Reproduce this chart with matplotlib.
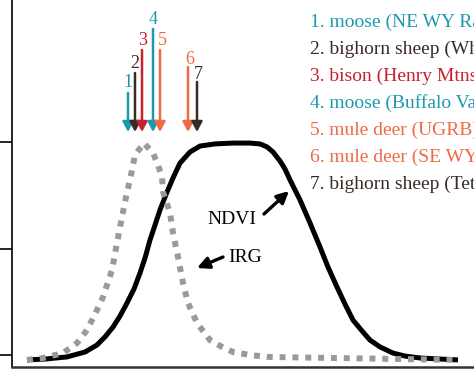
import numpy as np
import matplotlib
matplotlib.use("Agg")
import matplotlib.pyplot as plt

plt.rcParams['font.family'] = ['Liberation Serif', 'DejaVu Serif']

# curves (x = day-like units, y = relative greenness)
ndvi_x = [15, 33, 55, 73, 85, 93, 101, 108, 115, 122, 128, 133, 138, 143, 148, 155,
          161, 168, 178, 188, 203, 221, 238, 248, 255, 261, 268, 273, 278, 283, 288,
          298, 308, 316, 325, 333, 341, 350, 358, 368, 381, 393, 408, 428, 446]
ndvi_y = [-0.023, -0.019, -0.009, 0.014, 0.047, 0.085, 0.131, 0.183, 0.244, 0.310,
          0.385, 0.455, 0.540, 0.610, 0.681, 0.765, 0.831, 0.901, 0.953, 0.981,
          0.991, 0.995, 0.995, 0.991, 0.977, 0.953, 0.911, 0.873, 0.822, 0.775,
          0.728, 0.620, 0.507, 0.413, 0.319, 0.239, 0.164, 0.113, 0.070, 0.038,
          0.009, -0.005, -0.014, -0.019, -0.023]

irg_x = [15, 31, 51, 65, 75, 85, 91, 100, 105, 110, 115, 118, 123, 132, 141, 146,
         150, 151, 158, 161, 166, 171, 176, 185, 198, 210, 221, 238, 255, 321, 446]
irg_y = [-0.023, -0.014, 0.009, 0.056, 0.117, 0.211, 0.272, 0.399, 0.526, 0.648,
         0.765, 0.822, 0.939, 0.995, 0.948, 0.892, 0.836, 0.765, 0.667, 0.573,
         0.460, 0.338, 0.244, 0.150, 0.070, 0.038, 0.014, 0.0, -0.009, -0.014,
         -0.023]

# migration arrival arrows
arrow_x = [116, 123, 130, 141, 148, 176, 185]
arrow_top = [1.230, 1.324, 1.432, 1.531, 1.432, 1.352, 1.282]
arrow_tip = 1.047
arrow_labels = ['1', '2', '3', '4', '5', '6', '7']
label_x = [115.5, 123, 131, 141.5, 150, 177.5, 186]
label_y = [1.258, 1.347, 1.455, 1.554, 1.455, 1.366, 1.295]

teal = '#1b9aae'
brown = '#3a2b26'
red = '#c8202f'
orange = '#ef6a45'
arrow_colors = [teal, brown, red, teal, orange, orange, brown]

legend_labels = ['1. moose (NE WY Range)', '2. bighorn sheep (Whiskey Mtn)',
                 '3. bison (Henry Mtns)', '4. moose (Buffalo Valley)',
                 '5. mule deer (UGRB)', '6. mule deer (SE WY)',
                 '7. bighorn sheep (Teton Range)']

fig = plt.figure(figsize=(4.74, 3.69), dpi=100, facecolor='white')
ax = fig.add_axes([12 / 474, 2 / 369, 1 - 12 / 474, 1 - 2 / 369])
ax.set_xlim(0, 462)
ax.set_ylim(-12 / 213, 355 / 213)

ax.plot(ndvi_x, ndvi_y, color='black', lw=3.6, solid_joinstyle='round',
        solid_capstyle='butt', zorder=2)
ax.plot(irg_x, irg_y, color='#9a9a9a', lw=4.3, linestyle=(0, (1, 1.15)),
        dash_capstyle='butt', zorder=3)

for x, top, c in zip(arrow_x, arrow_top, arrow_colors):
    ax.annotate('', xy=(x, arrow_tip), xytext=(x, top),
                arrowprops=dict(arrowstyle='-|>,head_length=0.6,head_width=0.32',
                                lw=1.8, color=c, shrinkA=0, shrinkB=0,
                                mutation_scale=10),
                annotation_clip=False)
for x, y, t, c in zip(label_x, label_y, arrow_labels, arrow_colors):
    ax.text(x, y, t, color=c, fontsize=13, ha='center', va='baseline')

for i, (t, c) in enumerate(zip(legend_labels, arrow_colors)):
    ax.text(298, (355 - 26.5 - 27 * i) / 213, t, color=c, fontsize=14,
            ha='left', va='baseline', clip_on=False)

ax.text(219.5, (355 - 224.5) / 213, 'NDVI', fontsize=14, ha='center', va='baseline')
ax.annotate('', xy=(277, (355 - 191) / 213), xytext=(252, (355 - 214) / 213),
            arrowprops=dict(arrowstyle='-|>,head_length=0.7,head_width=0.35',
                            lw=2.4, color='black', shrinkA=0, shrinkB=0,
                            mutation_scale=10))
ax.text(233.5, (355 - 262) / 213, 'IRG', fontsize=14, ha='center', va='baseline')
ax.annotate('', xy=(185, (355 - 268) / 213), xytext=(211, (355 - 257) / 213),
            arrowprops=dict(arrowstyle='-|>,head_length=0.7,head_width=0.35',
                            lw=2.4, color='black', shrinkA=0, shrinkB=0,
                            mutation_scale=10))

ax.spines['top'].set_visible(False)
ax.spines['right'].set_visible(False)
ax.spines['left'].set_linewidth(1.2)
ax.spines['bottom'].set_linewidth(1.8)
ax.spines['bottom'].set_color('#333333')
ax.set_xticks([])
ax.set_yticks([0, 0.5, 1])
ax.set_yticklabels([])
ax.tick_params(axis='y', direction='out', length=9, width=1.2)

fig.savefig('out.png', dpi=100)
